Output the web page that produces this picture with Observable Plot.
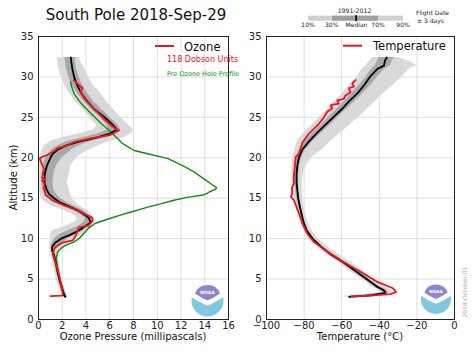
<!DOCTYPE html>
<html><head><meta charset="utf-8">
<script src="https://cdn.jsdelivr.net/npm/d3@7"></script>
<script src="https://cdn.jsdelivr.net/npm/@observablehq/plot@0.6"></script>
<style>
body{margin:0;background:#fff;}
#wrap{position:relative;width:474px;height:355px;overflow:hidden;background:#fff;font-family:"DejaVu Sans",sans-serif;}
.panel{position:absolute;top:0;}
#overlay{position:absolute;left:0;top:0;pointer-events:none;}
</style></head><body>
<div id="wrap"></div>
<script>
// ---------- tick values ----------
const altTicks = [0, 5, 10, 15, 20, 25, 30, 35];
const ozoneTicks = [0, 2, 4, 6, 8, 10, 12, 14, 16];
const tempTicks = [-100, -80, -60, -40, -20, 0];

// ---------- ozone climatology 1991-2012 (percentiles) ----------
const ozoneAlt = [2.8, 3, 4, 5, 6, 7, 8, 8.5, 9, 9.5, 10, 10.5, 11, 11.5, 12, 12.5, 13, 13.5, 14, 14.5, 15, 15.5, 16, 17, 18, 19, 20, 20.5, 21, 21.5, 22, 22.5, 23, 23.5, 24, 25, 26, 27, 28, 29, 30, 31, 32, 32.4];
const ozoneP10 = [2.1, 2.0, 1.7, 1.5, 1.35, 1.2, 1.05, 1.0, 0.95, 0.95, 1.0, 1.0, 1.2, 2.2, 3.0, 3.3, 2.9, 2.1, 1.1, 0.6, 0.3, 0.15, 0.1, 0.1, 0.1, 0.1, 0.15, 0.2, 0.3, 0.5, 1.0, 2.0, 3.5, 4.7, 4.9, 4.3, 3.7, 3.1, 2.6, 2.2, 1.9, 1.7, 1.6, 1.6];
const ozoneP30 = [2.2, 2.1, 1.85, 1.65, 1.5, 1.35, 1.2, 1.1, 1.05, 1.15, 1.35, 1.8, 2.5, 3.3, 3.8, 3.95, 3.55, 2.85, 1.95, 1.3, 0.85, 0.55, 0.35, 0.3, 0.3, 0.4, 0.6, 0.85, 1.1, 1.6, 2.4, 3.8, 5.1, 5.9, 5.8, 5.15, 4.45, 3.8, 3.25, 2.85, 2.55, 2.35, 2.25, 2.2];
const ozoneMedian = [2.25, 2.15, 1.95, 1.75, 1.6, 1.45, 1.3, 1.15, 1.15, 1.4, 1.9, 2.7, 3.4, 3.9, 4.4, 4.25, 3.85, 3.3, 2.55, 1.8, 1.3, 0.9, 0.7, 0.5, 0.53, 0.7, 1.0, 1.2, 1.6, 2.3, 3.4, 4.9, 6.0, 6.6, 6.3, 5.6, 4.7, 4.1, 3.6, 3.25, 3.0, 2.85, 2.75, 2.72];
const ozoneP70 = [2.3, 2.25, 2.05, 1.85, 1.7, 1.55, 1.45, 1.4, 1.55, 2.0, 2.5, 3.2, 3.8, 4.2, 4.55, 4.5, 4.2, 3.75, 3.05, 2.35, 1.85, 1.5, 1.3, 1.2, 1.3, 1.5, 2.0, 2.4, 2.8, 3.4, 4.4, 5.7, 6.5, 6.9, 6.7, 6.0, 5.3, 4.6, 4.1, 3.7, 3.4, 3.2, 3.1, 3.1];
const ozoneP90 = [2.45, 2.4, 2.2, 2.0, 1.85, 1.75, 1.65, 1.8, 2.3, 2.7, 3.2, 3.9, 4.3, 4.6, 4.8, 4.8, 4.5, 4.1, 3.5, 3.1, 2.8, 2.7, 2.6, 2.4, 2.6, 2.7, 3.2, 3.7, 4.3, 5.0, 6.0, 7.3, 7.8, 8.0, 7.6, 6.9, 6.3, 5.7, 5.2, 4.6, 4.2, 3.9, 3.5, 3.5];

// ---------- flight ozone (2018-Sep-29) ----------
const flightOzoneAlt = [2.9, 2.95, 3.2, 5, 6.5, 7.6, 8.1, 8.5, 8.9, 9.2, 9.5, 9.8, 10.3, 11.0, 11.4, 11.6, 12.2, 12.6, 12.9, 13.5, 14.1, 14.7, 15.4, 16.2, 16.8, 17.2, 17.3, 17.5, 18.2, 18.7, 19.5, 19.9, 20.1, 20.4, 20.8, 21.2, 21.5, 21.95, 22.4, 22.8, 23.0, 23.4, 23.6, 23.9, 24.6, 25.9, 27.1, 28.2, 28.6, 29.0, 29.3, 29.6];
const flightOzone = [1.0, 2.0, 2.05, 1.8, 1.55, 1.3, 1.2, 1.25, 1.4, 1.7, 2.0, 2.9, 3.1, 3.3, 3.4, 4.2, 4.55, 4.5, 4.1, 3.3, 2.2, 1.2, 0.6, 0.47, 0.5, 0.3, 0.6, 0.3, 0.4, 0.45, 0.2, 0.1, 0.3, 0.8, 1.3, 1.6, 2.4, 3.0, 4.4, 6.0, 6.3, 6.8, 6.5, 6.2, 5.67, 4.8, 4.0, 3.5, 3.7, 3.4, 3.2, 2.95];

// ---------- pre ozone hole profile ----------
const preHoleAlt = [2.8, 3.5, 5.0, 6.5, 7.5, 8.3, 8.8, 9.1, 9.6, 10.0, 10.6, 11.3, 11.9, 12.4, 12.9, 13.3, 13.9, 14.3, 14.75, 15.1, 15.4, 15.6, 15.8, 16.1, 16.3, 16.6, 17.2, 18.25, 19.05, 19.9, 20.5, 20.9, 21.75, 22.6, 23.6, 24.2, 25.5, 26.7, 27.9, 29.0, 29.4];
const preHoleOzone = [2.3, 2.1, 1.8, 1.6, 1.5, 1.6, 1.9, 2.2, 3.0, 3.4, 3.8, 4.2, 4.8, 5.8, 6.9, 7.8, 9.2, 10.3, 11.4, 12.5, 13.9, 14.2, 14.4, 14.9, 15.0, 14.7, 14.1, 13.1, 12.1, 10.9, 9.2, 8.05, 7.1, 6.5, 5.8, 5.3, 4.4, 3.6, 3.0, 2.75, 2.7];

// ---------- temperature climatology (percentiles) ----------
const tempAlt = [2.8, 3.0, 3.3, 3.6, 4, 5, 6, 7, 8, 9, 10, 11, 12, 13, 14, 15, 16, 17, 18, 19, 20, 21, 22, 23, 24, 25, 26, 27, 28, 29, 30, 31, 31.4, 32, 32.4];
const tempP10 = [-63, -52, -40, -40.5, -43.5, -49.5, -55.5, -61.5, -68, -73, -77.3, -80, -81.8, -83, -84.3, -85.3, -86, -86.4, -86.5, -86.4, -86, -85, -83.5, -80.5, -76, -72, -67.5, -63.5, -59.5, -55.5, -52, -49, -47, -45, -43.5];
const tempP30 = [-59, -47, -38, -39, -42, -48, -54, -60, -66.7, -72, -76.3, -79.3, -81, -82, -83, -83.9, -84.5, -84.9, -85, -84.7, -84, -82.5, -79.8, -75.5, -71, -67, -62.5, -58.5, -54.5, -50.5, -47, -44, -42, -41, -40];
const tempMedian = [-56, -44, -36.7, -37.5, -40.8, -46.8, -52.7, -58.6, -65.5, -71, -75.5, -78.6, -80.2, -81.3, -82.3, -83.1, -83.6, -84, -84, -83.6, -82.8, -81, -77.5, -73.5, -69, -64.5, -60, -56, -51.5, -48, -45, -41, -37.5, -37, -36];
const tempP70 = [-52, -41, -35, -36, -39.5, -45.5, -51.5, -57.3, -64.3, -70, -74.7, -78, -79.6, -80.7, -81.6, -82.3, -82.7, -83, -82.9, -82.4, -81.3, -79.3, -75.5, -71, -66.5, -62, -57.5, -53, -48.5, -44.5, -41, -37, -34, -33, -32];
const tempP90 = [-48, -37, -32.5, -33.5, -37, -42.5, -48.5, -54.5, -61.5, -67.5, -72.5, -76, -78, -79.2, -80.2, -80.8, -81, -81, -80.5, -79, -76, -70.5, -66, -61, -56, -51, -46.5, -42, -37.5, -32.5, -28, -24, -20, -25, -30];

// ---------- flight temperature ----------
const flightTempAlt = [2.85, 2.95, 3.15, 3.4, 3.9, 4.65, 5.9, 7.1, 8.4, 9.6, 10.6, 11.9, 13.1, 13.9, 14.75, 15.2, 15.6, 16.3, 16.8, 17.6, 18.8, 20.1, 20.5, 21.9, 23.0, 24.2, 25.0, 25.7, 26.1, 26.5, 26.7, 27.1, 27.3, 27.7, 28.1, 28.6, 28.8, 29.2, 29.6];
const flightTemp = [-55, -45, -34, -31, -33, -41, -50, -59, -67.7, -74.8, -78.3, -80.9, -82.7, -84, -85.4, -87, -86.3, -86.5, -85.4, -85.5, -85, -84.5, -82.7, -80.9, -77.4, -72.1, -69.5, -67.7, -65, -65.9, -61.5, -62.4, -58.9, -58, -55.3, -56.2, -53.5, -54.4, -52.6];

// ---------- tables ----------
const ozoneBands = ozoneAlt.map((a, i) => ({alt: a, p10: ozoneP10[i], p30: ozoneP30[i], med: ozoneMedian[i], p70: ozoneP70[i], p90: ozoneP90[i]}));
const tempBands = tempAlt.map((a, i) => ({alt: a, p10: tempP10[i], p30: tempP30[i], med: tempMedian[i], p70: tempP70[i], p90: tempP90[i]}));
const flightO3 = flightOzoneAlt.map((a, i) => ({alt: a, v: flightOzone[i]}));
const preHole = preHoleAlt.map((a, i) => ({alt: a, v: preHoleOzone[i]}));
const flightT = flightTempAlt.map((a, i) => ({alt: a, v: flightTemp[i]}));

const LIGHT = "#d9d9d9", DARK = "#a8a8a8", GRID = "#dedede";
const style = {background: "transparent", fontFamily: "DejaVu Sans, sans-serif", fontSize: "10px", color: "#222", overflow: "visible"};
const yScale = {domain: [0, 35], ticks: altTicks, tickSize: 0, tickPadding: 5, label: null};

const ozonePlot = Plot.plot({
  width: 240, height: 355, marginLeft: 38, marginRight: 12, marginTop: 36, marginBottom: 36,
  style,
  x: {domain: [0, 16], ticks: ozoneTicks, tickSize: 0, tickPadding: 2, label: null},
  y: yScale,
  marks: [
    Plot.ruleX(ozoneTicks, {stroke: GRID}),
    Plot.ruleY(altTicks, {stroke: GRID}),
    Plot.areaX(ozoneBands, {y: "alt", x1: "p10", x2: "p90", fill: LIGHT}),
    Plot.areaX(ozoneBands, {y: "alt", x1: "p30", x2: "p70", fill: DARK}),
    Plot.line(preHole, {x: "v", y: "alt", stroke: "#138a13", strokeWidth: 1.4}),
    Plot.line(ozoneBands, {x: "med", y: "alt", stroke: "#000", strokeWidth: 1.8}),
    Plot.line(flightO3, {x: "v", y: "alt", stroke: "#f0141e", strokeWidth: 1.8}),
    Plot.frame({stroke: "#222"})
  ]
});

const tempPlot = Plot.plot({
  width: 234, height: 355, marginLeft: 26, marginRight: 20, marginTop: 36, marginBottom: 36,
  style,
  x: {domain: [-100, 0], ticks: tempTicks, tickSize: 0, tickPadding: 2, label: null},
  y: yScale,
  marks: [
    Plot.ruleX(tempTicks, {stroke: GRID}),
    Plot.ruleY(altTicks, {stroke: GRID}),
    Plot.areaX(tempBands, {y: "alt", x1: "p10", x2: "p90", fill: LIGHT}),
    Plot.areaX(tempBands, {y: "alt", x1: "p30", x2: "p70", fill: DARK}),
    Plot.line(tempBands, {x: "med", y: "alt", stroke: "#000", strokeWidth: 1.8}),
    Plot.line(flightT, {x: "v", y: "alt", stroke: "#f0141e", strokeWidth: 1.8}),
    Plot.frame({stroke: "#222"})
  ]
});

const wrap = document.getElementById("wrap");
const p1 = document.createElement("div"); p1.className = "panel"; p1.style.left = "0px"; p1.appendChild(ozonePlot); wrap.appendChild(p1);
const p2 = document.createElement("div"); p2.className = "panel"; p2.style.left = "240px"; p2.appendChild(tempPlot); wrap.appendChild(p2);

// ---------- overlay: titles, legends, labels, logos ----------
const svg = d3.select(wrap).append("svg").attr("id", "overlay").attr("width", 474).attr("height", 355)
  .attr("font-family", "DejaVu Sans, sans-serif");

function txt(x, y, s, size, fill, anchor, rot) {
  const t = svg.append("text").attr("x", x).attr("y", y).attr("font-size", size).attr("fill", fill || "#111")
    .attr("text-anchor", anchor || "start").text(s);
  if (rot) t.attr("transform", `rotate(${rot},${x},${y})`);
  return t;
}

txt(136, 19.5, "South Pole 2018-Sep-29", 15, "#111", "middle");

// ozone legend
svg.append("line").attr("x1", 155).attr("x2", 174).attr("y1", 46).attr("y2", 46).attr("stroke", "#f0141e").attr("stroke-width", 2);
txt(184, 50.5, "Ozone", 11.5, "#111");
txt(167, 62, "118 Dobson Units", 8, "#e8141c");
txt(167, 75.5, "Pre Ozone Hole Profile", 6.5, "#138a13");

// temperature legend
svg.append("line").attr("x1", 343).attr("x2", 362).attr("y1", 45.7).attr("y2", 45.7).attr("stroke", "#f0141e").attr("stroke-width", 2);
txt(373, 50, "Temperature", 11.5, "#111");

// climatology key
txt(354.5, 12.5, "1991-2012", 6.2, "#222", "middle");
svg.append("rect").attr("x", 308).attr("y", 15.7).attr("width", 95).attr("height", 5).attr("fill", "#d0d0d0");
svg.append("rect").attr("x", 332).attr("y", 15.7).attr("width", 46).attr("height", 5).attr("fill", "#a0a0a0");
svg.append("rect").attr("x", 355.3).attr("y", 15.2).attr("width", 1.6).attr("height", 6).attr("fill", "#000");
const keyLabels = ["10%", "30%", "Median", "70%", "90%"];
const keyX = [308, 331.7, 356.5, 378, 403];
keyLabels.forEach((s, i) => txt(keyX[i], 27.3, s, 6, "#222", "middle"));
txt(416, 15, "Flight Date", 6, "#222");
txt(417, 23, "± 3 days", 6, "#222");

// axis labels
txt(17, 177.5, "Altitude (km)", 10, "#111", "middle", -90);
txt(133, 340, "Ozone Pressure (millipascals)", 10, "#111", "middle");
txt(360, 340, "Temperature (°C)", 10, "#111", "middle");
txt(466.5, 292, "2018-October-01", 6, "#aaa", "middle", -90);

// NOAA logos
function logo(cx, cy, r) {
  const k = r / 16;
  const g = svg.append("g").attr("transform", `translate(${cx},${cy}) scale(${k})`);
  g.append("circle").attr("r", 16).attr("fill", "#80c8e2");
  g.append("path").attr("d", "M-17,-17 H17 V-4 Q6,3 0,5 Q-6,3 -17,-4 Z").attr("fill", "#fff");
  g.append("path").attr("d", "M-12.5,-7 A13.5 13.5 0 0 1 12.5,-7 Q6,-2.5 0,0 Q-6,-2.5 -12.5,-7 Z").attr("fill", "#8e85cc");
  g.append("text").attr("x", 0).attr("y", -6.5).attr("font-size", 4.5).attr("fill", "#fff").attr("text-anchor", "middle").attr("font-weight", "bold").text("NOAA");
}
logo(207.5, 300.5, 16);
logo(436, 299, 15);
</script>
</body></html>
